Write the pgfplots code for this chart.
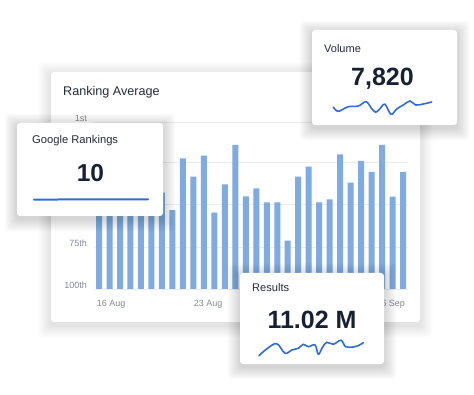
\documentclass[border=0pt]{standalone}
\usepackage{pgfplots}
\pgfplotsset{compat=1.18}
\usepackage{pgfplotstable}
\usepackage{fontspec}
\setmainfont{Liberation Sans}
\definecolor{barblue}{RGB}{127,170,226}
\definecolor{lineblue}{RGB}{47,108,214}
\definecolor{darktext}{RGB}{22,33,52}
\definecolor{titletext}{RGB}{34,44,60}
\definecolor{ticktext}{RGB}{132,138,148}
\definecolor{gridc}{RGB}{234,236,240}

\newcommand{\shadowcard}[5]{%
\begin{scope}[x=1pt,y=1pt]
\foreach \i in {1,...,14}{\fill[black,opacity=#5,rounded corners=4pt] (#1-\i*0.9,#2-\i*0.9-3) rectangle (#3+\i*0.9,#4+\i*0.9-3);}
\fill[white,rounded corners=3pt] (#1,#2) rectangle (#3,#4);
\end{scope}}

\pgfplotstableread{
idx v
0 58
1 52
2 63
3 49
4 57
5 61
6 57.1
7 46.8
8 77.5
9 66.6
10 79.0
11 45.2
12 62.0
13 85.4
14 54.9
15 59.7
16 51.4
17 51.4
18 28.6
19 66.6
20 72.5
21 51.4
22 53.2
23 79.8
24 63.0
25 75.9
26 69.4
27 85.4
28 54.7
29 69.4
}\bars

\begin{document}
\begin{tikzpicture}
\fill[white] (0pt,0pt) rectangle (474pt,395pt);
\useasboundingbox (0pt,0pt) rectangle (474pt,395pt);

% main card
\shadowcard{51}{73}{420}{323}{0.006}
\node[anchor=base west,inner sep=0pt,font=\fontsize{12.6}{14}\selectfont,text=titletext] at (63pt,299.5pt) {Ranking Average};

\begin{axis}[at={(93.8pt,106pt)},anchor=south west,scale only axis,
  width=314.5pt,height=167pt,xmin=-0.5,xmax=29.5,ymin=0,ymax=99,
  axis line style={draw=none},major tick length=0pt,
  ymajorgrids,grid style={gridc,line width=0.6pt},
  ytick={0,25,50,75,99},yticklabels={100th,75th,50th,25th,1st},
  xtick={1.15,10.4,28.05},xticklabels={16 Aug,23 Aug,6 Sep},
  tick label style={font=\fontsize{9}{10}\selectfont,text=ticktext,inner sep=0pt},
  yticklabel style={anchor=east,xshift=-6.8pt,yshift=4pt},
  xticklabel style={anchor=base,yshift=-17.5pt},
  ybar,bar width=6pt]
\addplot[fill=barblue,draw=none] table[x=idx,y=v]{\bars};
\end{axis}

% Google Rankings card
\shadowcard{17}{179}{163}{272}{0.011}
\node[anchor=base west,inner sep=0pt,font=\fontsize{11.2}{13}\selectfont,text=titletext] at (32pt,251pt) {Google Rankings};
\node[anchor=center,inner sep=0pt,font=\fontsize{24.5}{28}\selectfont\bfseries,text=darktext] at (90.5pt,222pt) {10};

% Volume card
\shadowcard{312}{270}{457}{365}{0.011}
\node[anchor=base west,inner sep=0pt,font=\fontsize{11}{13}\selectfont,text=titletext] at (324pt,342pt) {Volume};
\node[anchor=center,inner sep=0pt,font=\fontsize{25}{28}\selectfont\bfseries,text=darktext] at (382.5pt,316pt) {7,820};

% Results card
\shadowcard{240}{31}{384}{122}{0.011}
\node[anchor=base west,inner sep=0pt,font=\fontsize{11.1}{13}\selectfont,text=titletext] at (252pt,103pt) {Results};
\node[anchor=center,inner sep=0pt,font=\fontsize{25}{28}\selectfont\bfseries,text=darktext] at (312pt,75pt) {11.02 M};

% sparklines
\begin{axis}[at={(0pt,0pt)},anchor=south west,scale only axis,width=474pt,height=395pt,
  xmin=0,xmax=474,ymin=0,ymax=395,hide axis,clip=false]
\addplot[draw=lineblue,line width=2pt,line cap=round,no marks] coordinates {(34,195.4) (60,195.5) (91,195.5) (120,195.5) (148,195.6)};
\addplot[lineblue,line width=1.6pt,smooth,tension=0.6,line cap=round] coordinates {
(333.3,287.7) (337.7,283.7) (342.3,285.3) (348.3,288.3) (358.3,289) (366,293.3) (371,287.3) (375.7,282.7) (380.3,286.7) (385,290.7) (391,280.7) (396.7,286) (403.3,290) (410,294) (415.7,290) (423.3,291) (431.7,293)};
\addplot[lineblue,line width=1.6pt,smooth,tension=0.6,line cap=round] coordinates {
(259,39.3) (266.7,46) (276.7,51.3) (285,41.7) (291.7,45) (298.3,46.7) (303.3,50.7) (308.3,48.3) (315,50) (318.3,40.7) (322.3,47.3) (326.7,52.7) (333.3,50.7) (341,54.7) (345.7,48.3) (353.3,48) (359,49.7) (363.3,52.3)};
\end{axis}
\end{tikzpicture}
\end{document}
